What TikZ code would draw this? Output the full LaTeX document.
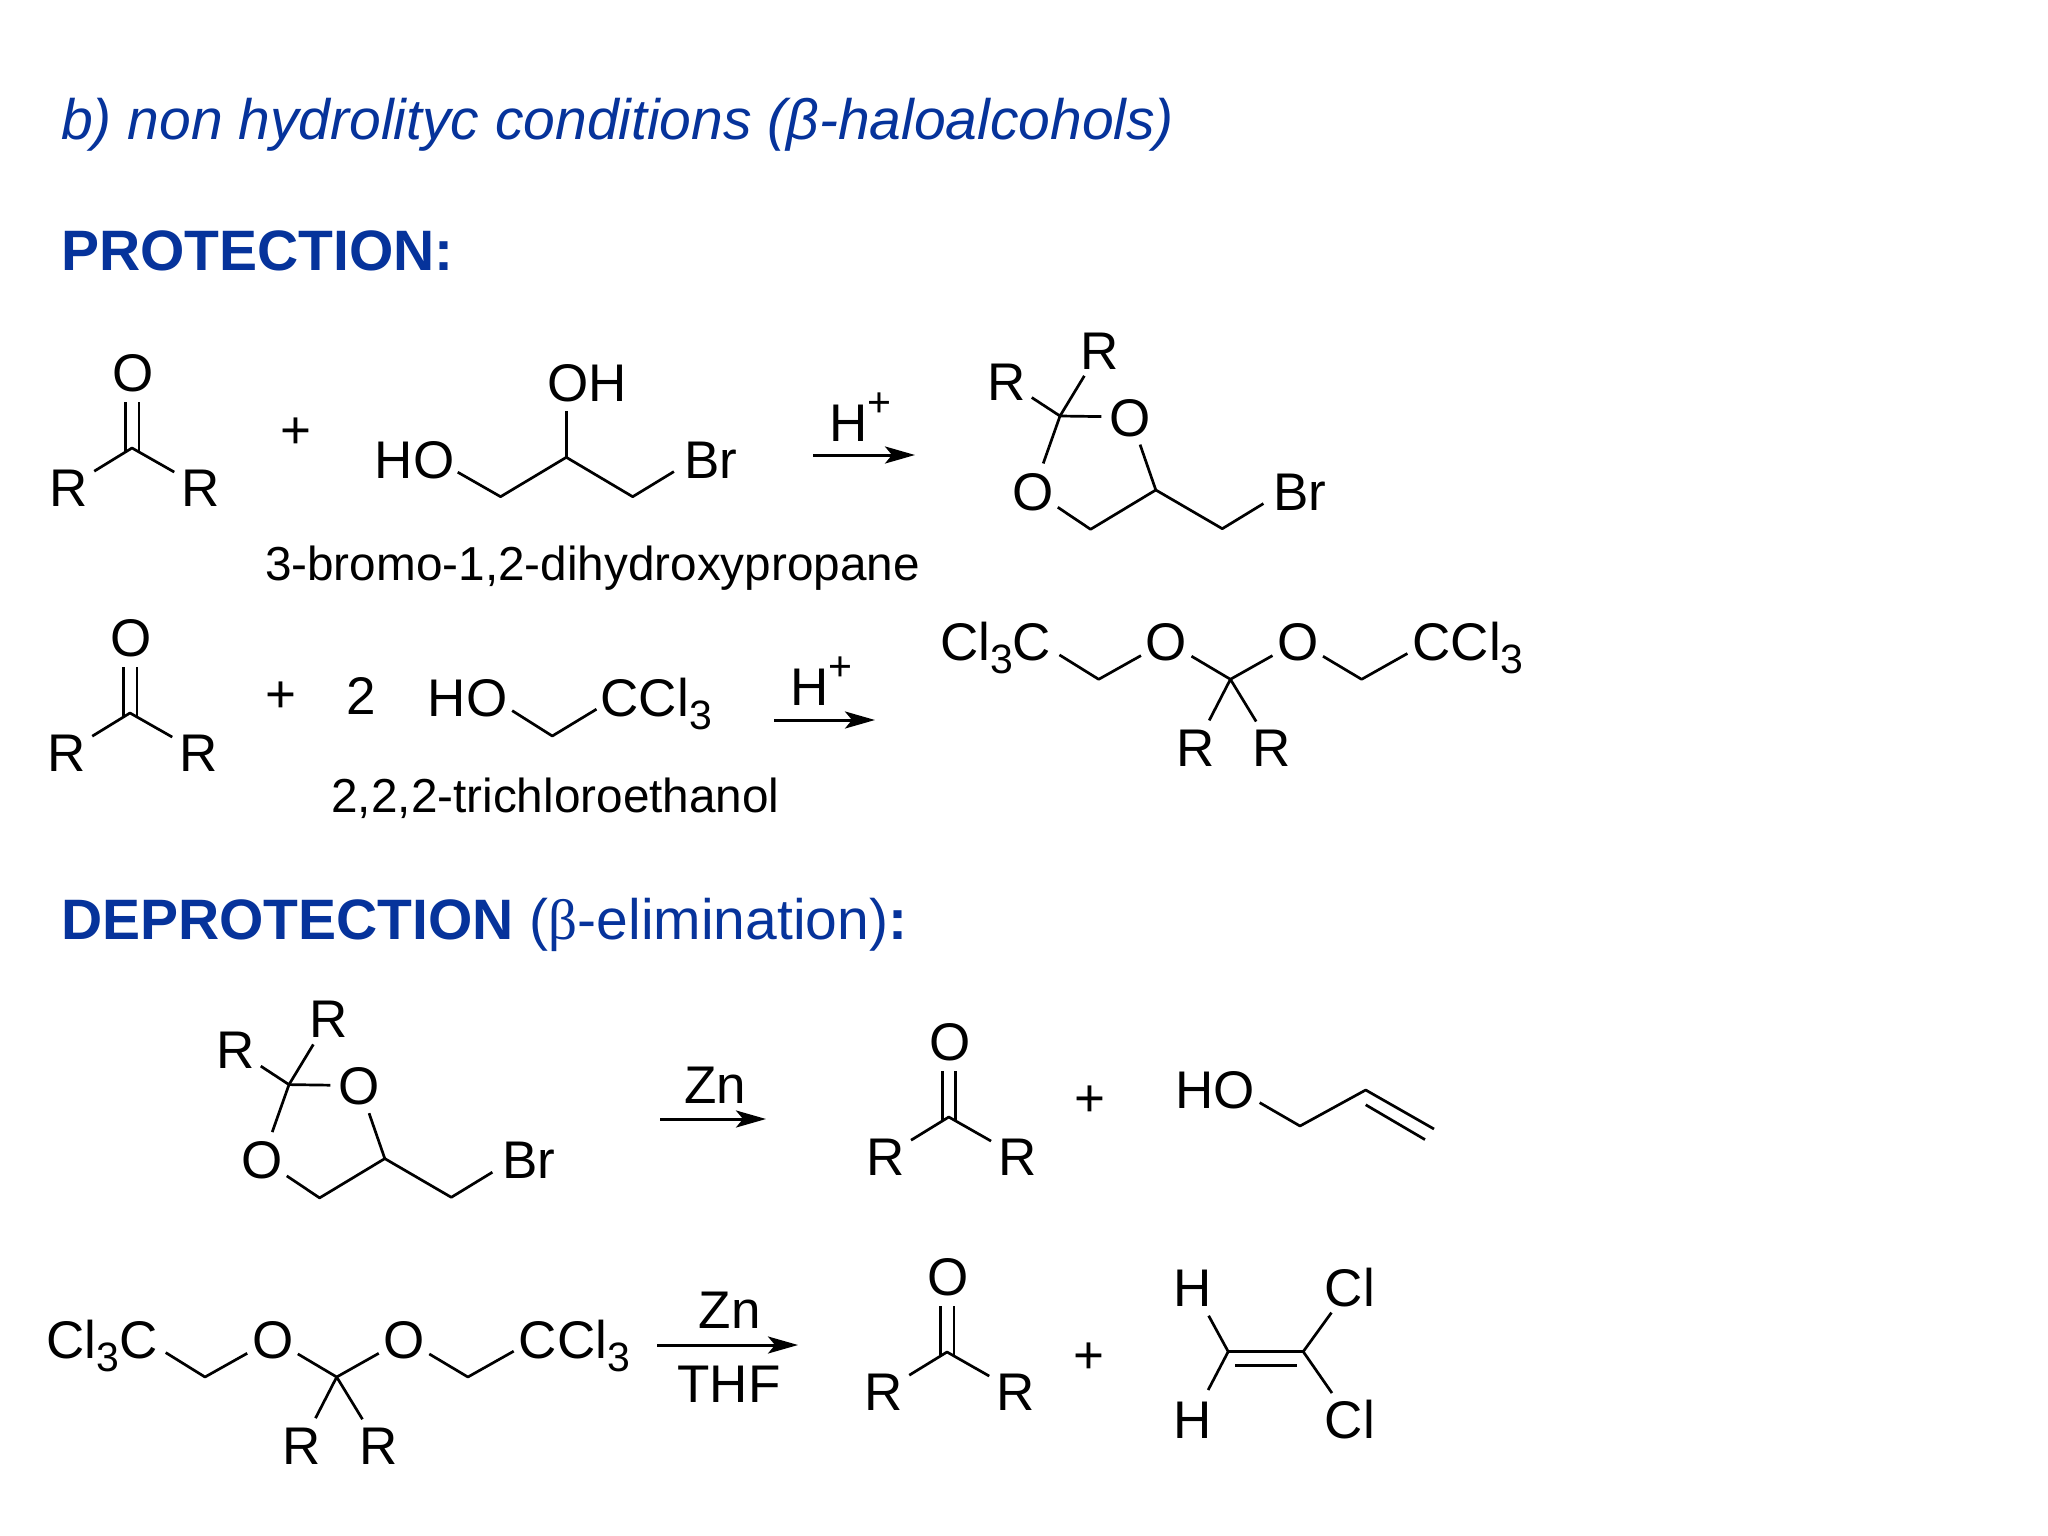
\documentclass[tikz,border=0pt]{standalone}
\usepackage{fontspec}
\setmainfont{Liberation Sans}
\newfontfamily\serifb{Liberation Serif}
\usetikzlibrary{arrows.meta}
\definecolor{titleblue}{HTML}{06339B}
\newcommand{\chemfont}{\fontsize{53}{60}\selectfont}
\newcommand{\namefont}{\fontsize{47.7}{56}\selectfont}
\newcommand{\titlefont}{\fontsize{57}{66}\selectfont}
\newcommand{\sbt}[1]{\raisebox{-13pt}{\fontsize{41}{41}\selectfont #1}}
\newcommand{\spl}{\raisebox{25pt}{\fontsize{41}{41}\selectfont +}}
\tikzset{
  x=1pt,y=-1pt,
  bond/.style={line width=2.7pt,black,line cap=butt,line join=round},
  rxn/.style={line width=3pt,black,-{Stealth[length=30pt,width=17pt,inset=7pt]}},
  atom/.style={circle,inner sep=0pt,minimum size=#1,text height=38pt,text depth=0pt,font=\chemfont,anchor=center},
  atom/.default=58pt,
  ratom/.style={atom=60pt},
  chain/.style={rectangle,inner sep=0pt,text height=38pt,text depth=0pt,font=\chemfont,anchor=base west},
  plain/.style={inner sep=0pt,font=\chemfont,anchor=base},
  iupac/.style={inner sep=0pt,font=\namefont,anchor=base},
  heading/.style={inner sep=0pt,font=\titlefont,text=titleblue,anchor=base west},
  ketone/.pic={
    \coordinate (-c) at (0,0);
    \node[atom] (-O) at (1.5,-76) {O};
    \node[ratom] (-R1) at (-63.5,39) {R};
    \node[ratom] (-R2) at (68.5,39) {R};
    \coordinate (-a1) at (-6.5,-46); \coordinate (-a2) at (-6.5,3);
    \coordinate (-b1) at (7,-46); \coordinate (-b2) at (7,3);
    \draw[bond] (-R1) -- (-c) -- (-R2);
    \draw[bond] (-a1) -- (-a2);
    \draw[bond] (-b1) -- (-b2);
  },
  dioxolane/.pic={
    \coordinate (-c) at (0,0);
    \coordinate (-c4) at (95.8,74);
    \coordinate (-c5) at (30.6,113.3);
    \coordinate (-c6) at (162.3,112.7);
    \node[ratom] (-R1) at (-53.5,-35) {R};
    \node[ratom] (-R2) at (40,-66) {R};
    \node[atom] (-O1) at (70.5,1) {O};
    \node[atom] (-O2) at (-26.5,75) {O};
    \node[atom=77pt] (-Br) at (240,75) {Br};
    \draw[bond] (-R1) -- (-c) -- (-R2);
    \draw[bond] (-c) -- (-O1);
    \draw[bond] (-c) -- (-O2);
    \draw[bond] (-O2) -- (-c5) -- (-c4) -- (-O1);
    \draw[bond] (-c4) -- (-c6) -- (-Br.199);
  },
  acetal/.pic={
    \coordinate (-c) at (0,0);
    \coordinate (-l) at (-131.7,0);
    \coordinate (-r) at (131.2,0);
    \node[chain] (-Cl) at (-290.5,-18.6) {Cl\sbt{3}C};
    \node[chain] (-CC) at (182,-19) {CCl\sbt{3}};
    \node[atom] (-O1) at (-64,-38) {O};
    \node[atom] (-O2) at (67.5,-38) {O};
    \node[ratom] (-R1) at (-35,68) {R};
    \node[ratom] (-R2) at (41.5,68) {R};
    \draw[bond] ([xshift=8pt,yshift=6pt]-Cl.south east) -- (-l) -- (-O1);
    \draw[bond] (-O1) -- (-c) -- (-O2);
    \draw[bond] (-O2) -- (-r) -- ([xshift=-5pt,yshift=7pt]-CC.south west);
    \draw[bond] (-R1) -- (-c) -- (-R2);
  }
}
\begin{document}
\begin{tikzpicture}
\useasboundingbox (0,0) rectangle (2048,1536);
\fill[white] (0,0) rectangle (2048,1536);
% headings
\node[heading,font=\titlefont\itshape] (t1) at (61,140) {b) non hydrolityc conditions (β-haloalcohols)};
\node[heading,font=\titlefont\bfseries] (t2) at (61,270) {PROTECTION:};
\node[heading] (t3) at (61,939.5) {\textbf{DEPROTECTION} ({\serifb β}-elimination)\textbf{:}};
% row 1
\pic (k1) at (132,448) {ketone};
\node[plain] (p1) at (296,448) {+};
\coordinate (d1) at (500.6,496.7);
\coordinate (d2) at (566.3,457.3);
\coordinate (d3) at (632.7,496.7);
\node[atom=90pt] (ho1) at (414.5,459) {HO};
\node[rectangle,inner sep=5pt,text height=38pt,text depth=0pt,font=\chemfont] (oh1) at (587,382) {OH};
\node[atom=77pt] (br1) at (710.5,459) {Br};
\draw[bond] (ho1.-17) -- (d1) -- (d2) -- (d3) -- (br1.199);
\draw[bond,shorten >=5pt] (d2) -- (d2 |- oh1.south);
\node[iupac] (n1) at (592.5,580) {3-bromo-1,2-dihydroxypropane};
\node[chain] (hp1) at (829,441) {H\spl};
\coordinate (a1s) at (813,455); \coordinate (a1e) at (915,455);
\draw[rxn] (a1s) -- (a1e);
\pic (dx1) at (1060,416) {dioxolane};
% row 2
\pic (k2) at (130,713) {ketone};
\node[plain] (p2) at (281,712) {+};
\node[plain] (two) at (361.6,714) {2};
\coordinate (e1) at (552.3,736);
\node[atom=93pt] (ho2) at (467.5,697) {HO};
\node[chain] (cc2) at (600.5,716) {CCl\sbt{3}};
\draw[bond] (ho2.-17) -- (e1) -- ([xshift=-4pt,yshift=7pt]cc2.south west);
\node[iupac] (n2) at (555.5,812) {2,2,2-trichloroethanol};
\node[chain] (hp2) at (790,705) {H\spl};
\coordinate (a2s) at (774,720); \coordinate (a2e) at (875,720);
\draw[rxn] (a2s) -- (a2e);
\pic (ac1) at (1230.4,679.3) {acetal};
% row 3
\pic (dx2) at (289,1084.6) {dioxolane};
\node[plain] (zn1) at (715.5,1103) {Zn};
\coordinate (a3s) at (660,1119); \coordinate (a3e) at (766,1119);
\draw[rxn] (a3s) -- (a3e);
\pic (k3) at (948.8,1117) {ketone};
\node[plain] (p3) at (1089.8,1116) {+};
\node[atom=93pt] (ho3) at (1215,1089) {HO};
\coordinate (f1) at (1300,1126);
\coordinate (f2) at (1365.7,1090);
\coordinate (f3) at (1434,1129);
\coordinate (f4) at (1365.7,1104.8);
\coordinate (f5) at (1425,1139.6);
\draw[bond] (ho3.-17) -- (f1) -- (f2) -- (f3);
\draw[bond] (f4) -- (f5);
% row 4
\pic (ac2) at (336.7,1377) {acetal};
\node[plain] (zn2) at (729.6,1328) {Zn};
\node[plain] (thf) at (729,1402) {THF};
\coordinate (a4s) at (657,1345); \coordinate (a4e) at (798,1345);
\draw[rxn] (a4s) -- (a4e);
\pic (k4) at (947,1352) {ketone};
\node[plain] (p4) at (1088.5,1373) {+};
\coordinate (g1) at (1228.2,1351.6);
\coordinate (g2) at (1303.2,1351.6);
\coordinate (g3) at (1235.4,1365.5);
\coordinate (g4) at (1297,1365.5);
\node[atom=65pt] (h1) at (1193,1287) {H};
\node[atom=65pt] (h2) at (1193,1419) {H};
\node[atom=62pt] (cl1) at (1350,1287) {Cl};
\node[atom=62pt] (cl2) at (1350,1419) {Cl};
\draw[bond] (h1) -- (g1) -- (h2);
\draw[bond] (cl1) -- (g2) -- (cl2);
\draw[bond] (g1) -- (g2);
\draw[bond] (g3) -- (g4);
\end{tikzpicture}
\end{document}
